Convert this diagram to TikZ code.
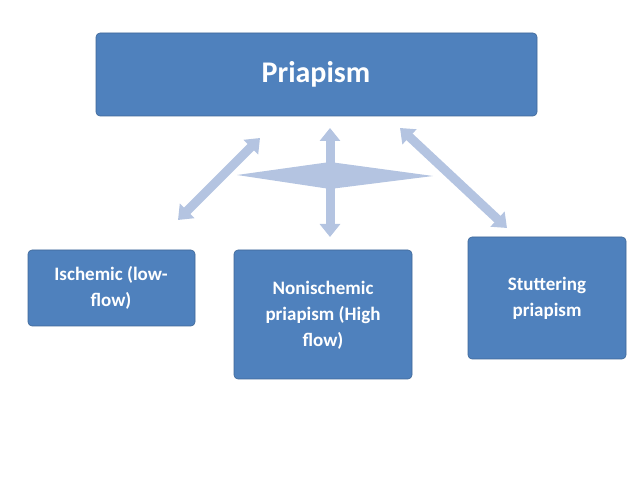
\documentclass[tikz,border=0pt]{standalone}
\usepackage{fontspec}
\setmainfont{Carlito}
\usetikzlibrary{arrows.meta}
\definecolor{boxc}{RGB}{79,129,189}
\definecolor{arrc}{RGB}{180,196,225}
\begin{document}
\begin{tikzpicture}[x=1pt,y=-1pt,
  box/.style={fill=boxc,draw=boxc!80!black,line width=0.6pt,rounded corners=4pt},
  lbl/.style={text=white,font=\bfseries\fontsize{19}{26}\selectfont,align=center},
  arr/.style={draw=arrc,line width=9pt,{Triangle[width=20pt,length=13pt]}-{Triangle[width=20pt,length=13pt]}}]
\useasboundingbox (0,0) rectangle (638,478);
\draw[box] (96,33) rectangle (537,116);
\node[lbl,font=\bfseries\fontsize{30}{36}\selectfont] (top) at (316,74) {Priapism};
\draw[box] (28,250) rectangle (195,326);
\node[lbl] (a) at (111,288) {Ischemic (low-\\flow)};
\draw[box] (234,250) rectangle (412,379);
\node[lbl] (b) at (323,315) {Nonischemic\\priapism (High\\flow)};
\draw[box] (468,237) rectangle (626,359);
\node[lbl] (c) at (547,298) {Stuttering\\priapism};
\coordinate (c1) at (260,138); \coordinate (c2) at (178,220);
\coordinate (m1) at (330,128); \coordinate (m2) at (330,237);
\coordinate (r1) at (400,128); \coordinate (r2) at (507,228);
\coordinate (dl) at (237,175); \coordinate (dr) at (433,176);
\coordinate (dt) at (330,162); \coordinate (db) at (330,189);
\fill[arrc] (dl) -- (dt) -- (dr) -- (db) -- cycle;
\draw[arr] (c1) -- (c2);
\draw[arr] (m1) -- (m2);
\draw[arr] (r1) -- (r2);
\end{tikzpicture}
\end{document}
